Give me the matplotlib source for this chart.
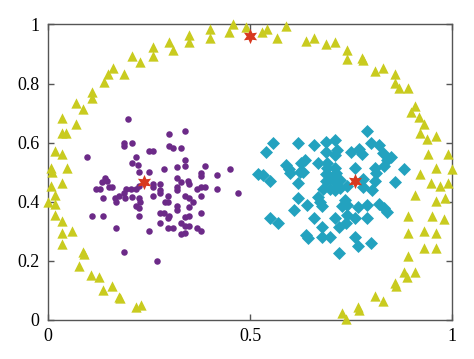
import matplotlib
matplotlib.use("Agg")
import matplotlib.pyplot as plt

# cluster 1 (purple circles)
c1_x = [0.199, 0.299, 0.339, 0.189, 0.189, 0.208, 0.299, 0.309, 0.329, 0.249,
        0.259, 0.098, 0.218, 0.339, 0.208, 0.222, 0.288, 0.319, 0.339, 0.389,
        0.450, 0.226, 0.249, 0.379, 0.379, 0.418, 0.142, 0.147, 0.135, 0.320,
        0.346, 0.349, 0.259, 0.277, 0.118, 0.128, 0.150, 0.158, 0.193, 0.205,
        0.218, 0.226, 0.261, 0.277, 0.277, 0.319, 0.320, 0.329, 0.368, 0.379,
        0.389, 0.418, 0.470, 0.189, 0.176, 0.137, 0.166, 0.168, 0.191, 0.208,
        0.226, 0.228, 0.259, 0.298, 0.289, 0.298, 0.339, 0.349, 0.379, 0.358,
        0.218, 0.226, 0.319, 0.319, 0.349, 0.108, 0.137, 0.226, 0.277, 0.288,
        0.299, 0.298, 0.339, 0.349, 0.379, 0.277, 0.329, 0.339, 0.168, 0.249,
        0.298, 0.309, 0.349, 0.368, 0.379, 0.329, 0.339, 0.189, 0.269]
c1_y = [0.680, 0.629, 0.640, 0.600, 0.588, 0.598, 0.590, 0.581, 0.581, 0.572,
        0.572, 0.550, 0.550, 0.541, 0.530, 0.524, 0.511, 0.519, 0.521, 0.521,
        0.511, 0.502, 0.502, 0.498, 0.487, 0.490, 0.479, 0.471, 0.468, 0.479,
        0.471, 0.460, 0.460, 0.460, 0.442, 0.442, 0.449, 0.449, 0.442, 0.442,
        0.442, 0.453, 0.449, 0.440, 0.428, 0.451, 0.440, 0.468, 0.442, 0.449,
        0.449, 0.442, 0.428, 0.428, 0.419, 0.411, 0.411, 0.400, 0.411, 0.417,
        0.411, 0.400, 0.419, 0.419, 0.398, 0.399, 0.419, 0.411, 0.419, 0.400,
        0.386, 0.378, 0.386, 0.372, 0.381, 0.352, 0.352, 0.352, 0.361, 0.361,
        0.352, 0.344, 0.349, 0.352, 0.361, 0.329, 0.329, 0.318, 0.312, 0.301,
        0.312, 0.312, 0.318, 0.312, 0.301, 0.290, 0.295, 0.229, 0.200]

# cluster 2 (cyan diamonds)
c2_x = [0.789, 0.557, 0.619, 0.658, 0.688, 0.710, 0.539, 0.688, 0.716, 0.749,
        0.770, 0.799, 0.820, 0.776, 0.830, 0.849, 0.839, 0.636, 0.669, 0.690,
        0.710, 0.590, 0.597, 0.626, 0.630, 0.690, 0.710, 0.760, 0.810, 0.832,
        0.880, 0.520, 0.531, 0.599, 0.623, 0.688, 0.698, 0.710, 0.713, 0.812,
        0.549, 0.619, 0.688, 0.710, 0.723, 0.779, 0.810, 0.859, 0.680, 0.698,
        0.710, 0.723, 0.739, 0.779, 0.801, 0.619, 0.669, 0.673, 0.677, 0.640,
        0.735, 0.739, 0.727, 0.768, 0.789, 0.820, 0.832, 0.839, 0.608, 0.549,
        0.570, 0.658, 0.710, 0.739, 0.760, 0.789, 0.677, 0.719, 0.738, 0.638,
        0.644, 0.677, 0.698, 0.760, 0.800, 0.768, 0.719]
c2_y = [0.640, 0.600, 0.600, 0.592, 0.603, 0.609, 0.569, 0.569, 0.575, 0.569,
        0.577, 0.600, 0.592, 0.561, 0.564, 0.550, 0.541, 0.541, 0.532, 0.530,
        0.558, 0.524, 0.510, 0.530, 0.502, 0.513, 0.513, 0.513, 0.513, 0.521,
        0.510, 0.494, 0.490, 0.498, 0.502, 0.494, 0.483, 0.485, 0.498, 0.498,
        0.471, 0.462, 0.471, 0.468, 0.474, 0.476, 0.471, 0.468, 0.442, 0.442,
        0.440, 0.445, 0.453, 0.449, 0.440, 0.411, 0.415, 0.400, 0.386, 0.389,
        0.406, 0.389, 0.386, 0.383, 0.389, 0.392, 0.378, 0.366, 0.372, 0.344,
        0.329, 0.344, 0.344, 0.355, 0.344, 0.344, 0.313, 0.313, 0.327, 0.287,
        0.276, 0.282, 0.282, 0.282, 0.259, 0.250, 0.228]

# cluster 3 (yellow triangles, the ring)
c3_x = [0.000, 0.017, 0.017, 0.007, 0.017, 0.036, 0.036, 0.059, 0.036, 0.088,
        0.089, 0.077, 0.106, 0.127, 0.137, 0.158, 0.176, 0.178, 0.218, 0.230,
        0.036, 0.007, 0.009, 0.048, 0.017, 0.036, 0.036, 0.046, 0.036, 0.069,
        0.069, 0.088, 0.108, 0.108, 0.139, 0.149, 0.160, 0.189, 0.209, 0.228,
        0.259, 0.259, 0.299, 0.309, 0.349, 0.349, 0.400, 0.400, 0.448, 0.459,
        0.489, 0.530, 0.541, 0.567, 0.589, 0.638, 0.659, 0.688, 0.709, 0.739,
        0.739, 0.778, 0.779, 0.810, 0.829, 0.859, 0.859, 0.868, 0.890, 0.907,
        0.897, 0.917, 0.930, 0.920, 0.938, 0.961, 0.940, 0.989, 0.961, 1.000,
        0.920, 0.948, 0.969, 0.989, 0.909, 0.961, 0.981, 0.890, 0.950, 0.979,
        0.890, 0.930, 0.960, 0.930, 0.961, 0.890, 0.880, 0.909, 0.888, 0.859,
        0.862, 0.808, 0.829, 0.768, 0.770, 0.727, 0.738]
c3_y = [0.400, 0.392, 0.423, 0.453, 0.355, 0.333, 0.293, 0.302, 0.257, 0.231,
        0.222, 0.184, 0.152, 0.144, 0.101, 0.113, 0.079, 0.073, 0.043, 0.051,
        0.464, 0.513, 0.502, 0.513, 0.573, 0.561, 0.634, 0.634, 0.682, 0.663,
        0.733, 0.713, 0.772, 0.752, 0.806, 0.832, 0.851, 0.832, 0.893, 0.874,
        0.924, 0.893, 0.941, 0.913, 0.964, 0.941, 0.983, 0.953, 0.975, 1.003,
        0.992, 0.975, 0.983, 0.953, 0.994, 0.945, 0.953, 0.933, 0.941, 0.913,
        0.882, 0.888, 0.879, 0.843, 0.851, 0.832, 0.803, 0.784, 0.784, 0.724,
        0.705, 0.685, 0.662, 0.634, 0.611, 0.622, 0.560, 0.560, 0.513, 0.511,
        0.493, 0.462, 0.453, 0.462, 0.423, 0.402, 0.414, 0.353, 0.352, 0.343,
        0.295, 0.301, 0.293, 0.242, 0.242, 0.216, 0.163, 0.163, 0.144, 0.124,
        0.113, 0.082, 0.064, 0.043, 0.034, 0.023, 0.003]

# cluster centres (red stars)
cen_x = [0.238, 0.499, 0.760]
cen_y = [0.468, 0.961, 0.470]

plt.rcParams['font.family'] = ['Liberation Serif', 'DejaVu Serif']

fig = plt.figure(figsize=(4.74, 3.59), dpi=100)
ax = fig.add_axes([0.101, 0.109, 0.853, 0.823])

ax.scatter(c1_x, c1_y, s=22, marker='o', color='#6c2a88', linewidths=0, clip_on=False, zorder=3)
ax.scatter(c2_x, c2_y, s=44, marker='D', color='#23a2bf', linewidths=0, clip_on=False, zorder=3)
ax.scatter(c3_x, c3_y, s=55, marker='^', color='#c9cb1f', linewidths=0, clip_on=False, zorder=3)
ax.scatter(cen_x, cen_y, s=120, marker=(6, 1, 0), color='#d8391f', linewidths=0, clip_on=False, zorder=4)

ax.set_xlim(0, 1)
ax.set_ylim(0, 1)
ax.set_xticks([0, 0.5, 1])
ax.set_xticklabels(['0', '0.5', '1'])
ax.set_yticks([0, 0.2, 0.4, 0.6, 0.8, 1])
ax.set_yticklabels(['0', '0.2', '0.4', '0.6', '0.8', '1'])

ax.tick_params(direction='in', length=4, width=1, color='#555555',
               top=True, right=True, labelsize=13, pad=6)
for sp in ax.spines.values():
    sp.set_color('#555555')
    sp.set_linewidth(1.0)

fig.savefig('out.png', dpi=100)
